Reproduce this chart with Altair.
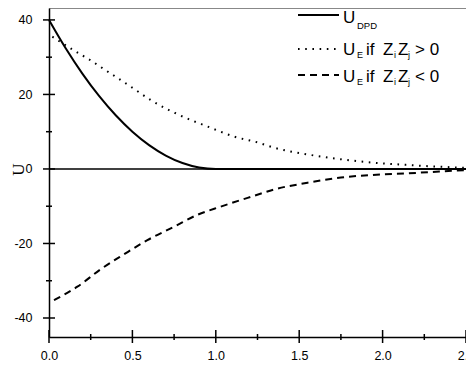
import altair as alt
import pandas as pd

# ---- data ----
r_dpd = [0.0, 0.1, 0.2, 0.3, 0.4, 0.5, 0.6, 0.7, 0.8, 0.9, 1.0, 2.5]
u_dpd = [40.0, 32.4, 25.6, 19.6, 14.4, 10.0, 6.4, 3.6, 1.6, 0.4, 0.0, 0.0]

r_pos = [0.02, 0.15, 0.24, 0.36, 0.49, 0.61, 0.78, 0.95, 1.11, 1.26, 1.35, 1.55, 1.75, 1.94, 2.14, 2.34, 2.5]
u_pos = [35.5, 31.8, 29.4, 25.9, 22.1, 18.5, 14.5, 11.4, 8.7, 7.0, 5.7, 3.9, 2.6, 1.7, 1.1, 0.6, 0.3]

r_neg = [0.03, 0.17, 0.31, 0.45, 0.59, 0.75, 0.89, 1.03, 1.23, 1.35, 1.55, 1.75, 1.94, 2.14, 2.34, 2.5]
u_neg = [-35.2, -31.6, -26.9, -22.9, -19.1, -15.5, -12.3, -10.1, -7.2, -5.5, -3.7, -2.3, -1.6, -1.2, -0.7, -0.3]

x_major = [0.0, 0.5, 1.0, 1.5, 2.0, 2.5]
x_minor = [0.25, 0.75, 1.25, 1.75, 2.25]
y_major = [-40, -20, 0, 20, 40]
y_minor = [-30, -10, 10, 30]
y_title = "U"

# ---- layout ----
W, H = 417, 329
FONT = "Liberation Sans"
xs = alt.Scale(domain=[0, 2.5], nice=False, zero=False)
ys = alt.Scale(domain=[-45.1, 43.2], nice=False, zero=False)
one = pd.DataFrame({"k": [0]})

x_axis = alt.Axis(values=x_major, format=".1f", ticks=False, tickSize=0, grid=False,
                  domainColor="black", domainWidth=1.5, labelFont=FONT, labelFontSize=12.5,
                  labelColor="black", labelPadding=12, labelFlush=False, labelOverlap=False,
                  title="")
y_axis = alt.Axis(values=y_major, labelExpr="datum.value + ''", ticks=False, tickSize=0,
                  grid=False, domainColor="black", domainWidth=1.5, labelFont=FONT,
                  labelFontSize=12.5, labelColor="black", labelPadding=17, labelFlush=False,
                  labelOverlap=False,
                  title=y_title, titleFont="Liberation Serif", titleFontSize=17,
                  titleFontWeight="normal", titleColor="black", titleAngle=270,
                  titleX=-31, titleY=161, titleAlign="center", titleBaseline="middle")


def curve(r, u, width, dash=None):
    kw = dict(color="black", strokeWidth=width, interpolate="monotone")
    if dash:
        kw["strokeDash"] = dash
    df = pd.DataFrame({"r": r, "u": u})
    return alt.Chart(df).mark_line(**kw).encode(
        x=alt.X("r:Q", scale=xs, axis=x_axis), y=alt.Y("u:Q", scale=ys, axis=y_axis))


def xticks(vals, up, down):
    df = pd.DataFrame({"v": vals})
    return alt.Chart(df).mark_rule(color="black", strokeWidth=1.5).encode(
        x=alt.X("v:Q", scale=xs, axis=x_axis), y=alt.value(H - up), y2=alt.value(H + down))


def yticks(vals, left, right):
    df = pd.DataFrame({"v": vals})
    return alt.Chart(df).mark_rule(color="black", strokeWidth=1.5).encode(
        y=alt.Y("v:Q", scale=ys, axis=y_axis), x=alt.value(-left), x2=alt.value(right))


def txt(s, x, y, size):
    df = pd.DataFrame({"s": [s]})
    return alt.Chart(df).mark_text(align="left", baseline="alphabetic", font=FONT,
                                   fontSize=size, color="black", aria=False).encode(
        text=alt.Text("s:N"), x=alt.value(x), y=alt.value(y))


def key(y, dash=None, width=1.5):
    kw = dict(color="black", strokeWidth=width)
    if dash:
        kw["strokeDash"] = dash
    return alt.Chart(one).mark_rule(**kw).encode(x=alt.value(249), x2=alt.value(290), y=alt.value(y))


zero = alt.Chart(one).mark_rule(color="black", strokeWidth=1.5).encode(
    y=alt.datum(0, scale=ys, axis=y_axis))

DOT = [1.6, 5.6]
layers = [
    curve(r_dpd, u_dpd, 2),
    zero,
    curve(r_pos, u_pos, 2, dash=DOT),
    curve(r_neg, u_neg, 2, dash=[7, 5]),
    xticks(x_major, 7, 6), xticks(x_minor, 3, 3),
    yticks(y_major, 6, 6), yticks(y_minor, 3, 3),
    # legend
    key(7, width=2), key(41, dash=DOT, width=1.8), key(67, dash=[7, 5], width=2),
    txt("U", 294, 15, 17), txt("DPD", 308, 21, 9.5),
]
for base, sym in [(47, ">"), (74, "<")]:
    layers += [
        txt("U", 294, base, 17), txt("E", 308, base + 3, 9),
        txt("if", 317, base, 17), txt("Z", 334, base, 17), txt("i", 345, base + 3, 9),
        txt("Z", 349, base, 17), txt("j", 359, base + 3, 9),
        txt(sym + " 0", 366, base, 17),
    ]

chart = alt.layer(*layers).properties(
    width=W, height=H,
    autosize=alt.AutoSizeParams(type="none"),
    padding={"left": 41, "top": 0, "right": 0, "bottom": 24},
    background="white",
).configure_view(stroke="#888888", strokeWidth=1)

chart.save("out.html", embed_options={"renderer": "svg", "actions": False})
